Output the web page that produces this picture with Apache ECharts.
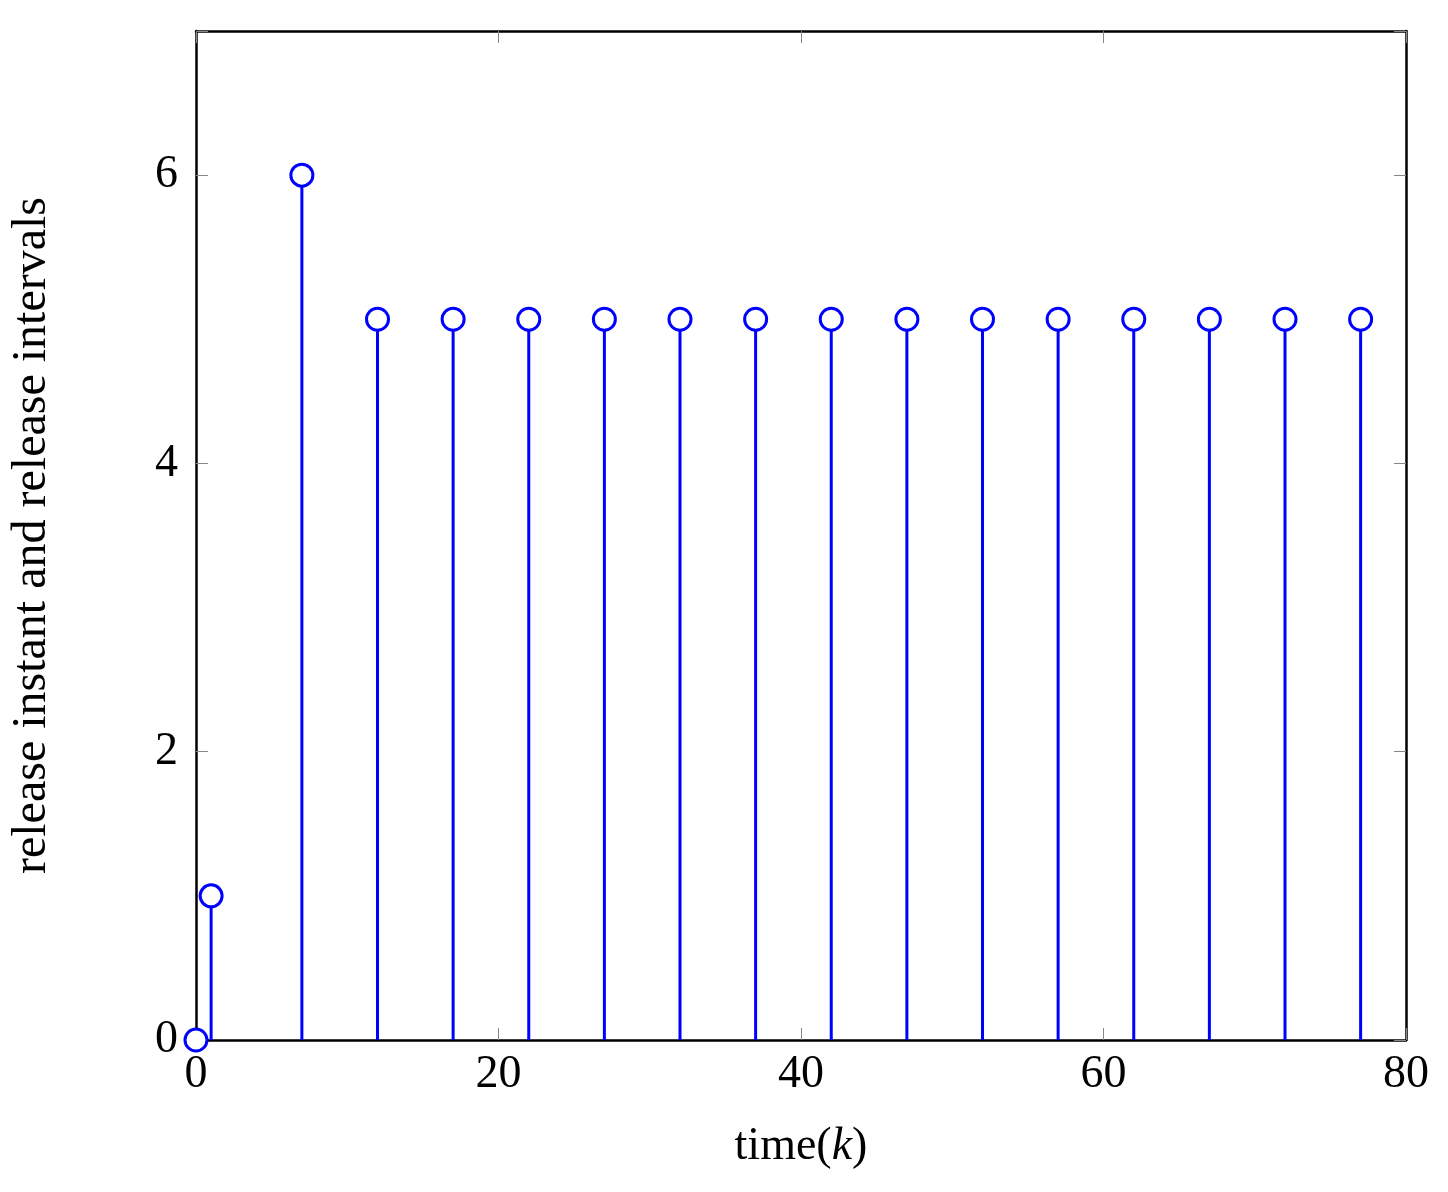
<!DOCTYPE html>
<html>
<head>
<meta charset="utf-8">
<script src="https://cdn.jsdelivr.net/npm/echarts@6/dist/echarts.min.js"></script>
<style>html,body{margin:0;padding:0;background:#fff}#chart{width:1448px;height:1192px}</style>
</head>
<body>
<div id="chart"></div>
<script>
// stem plot data
const times = [0, 1, 7, 12, 17, 22, 27, 32, 37, 42, 47, 52, 57, 62, 67, 72, 77];
const intervals = [0, 1, 6, 5, 5, 5, 5, 5, 5, 5, 5, 5, 5, 5, 5, 5, 5];
const yTicks = [0, 2, 4, 6];

const font = "'Liberation Serif', 'DejaVu Serif', serif";
const points = times.map((t, i) => [t, intervals[i]]);

const chart = echarts.init(document.getElementById('chart'));

const tickStyle = { show: true, inside: true, length: 12, lineStyle: { color: '#888', width: 1 } };
const lineStyle = { show: true, onZero: false, lineStyle: { color: '#000', width: 2.5 } };

// draw each stem as a vertical line from 0 plus an open circle at the value
function renderStem(params, api) {
  const top = api.coord([api.value(0), api.value(1)]);
  const base = api.coord([api.value(0), 0]);
  return {
    type: 'group',
    children: [
      {
        type: 'line',
        shape: { x1: base[0], y1: base[1], x2: top[0], y2: top[1] },
        style: { stroke: '#0000ff', lineWidth: 3 }
      },
      {
        type: 'circle',
        shape: { cx: top[0], cy: top[1], r: 11 },
        style: { fill: '#fff', stroke: '#0000ff', lineWidth: 3 }
      }
    ]
  };
}

chart.setOption({
  animation: false,
  grid: { left: 192, right: 42, top: 31, bottom: 152 },
  xAxis: [
    {
      type: 'value', min: 0, max: 80, interval: 20,
      name: 'time({i|k})', nameLocation: 'middle', nameGap: 84,
      nameTextStyle: { fontFamily: font, fontSize: 46, color: '#000',
        rich: { i: { fontFamily: font, fontSize: 46, fontStyle: 'italic', color: '#000' } } },
      axisLine: lineStyle, axisTick: tickStyle, splitLine: { show: false },
      axisLabel: { fontFamily: font, fontSize: 46, color: '#000', margin: 12 }
    },
    {
      type: 'value', min: 0, max: 80, interval: 20, position: 'top',
      axisLine: lineStyle, axisTick: tickStyle, splitLine: { show: false },
      axisLabel: { show: false }
    }
  ],
  yAxis: [
    {
      type: 'value', min: 0, max: 7, interval: 2,
      name: 'release instant and release intervals', nameLocation: 'middle', nameGap: 140,
      nameTextStyle: { fontFamily: font, fontSize: 48, color: '#000' },
      axisLine: lineStyle, axisTick: tickStyle, splitLine: { show: false },
      axisLabel: { fontFamily: font, fontSize: 46, color: '#000', margin: 18,
        formatter: v => yTicks.includes(v) ? String(v) : '' }
    },
    {
      type: 'value', min: 0, max: 7, interval: 2, position: 'right',
      axisLine: lineStyle, axisTick: tickStyle, splitLine: { show: false },
      axisLabel: { show: false }
    }
  ],
  series: [
    {
      type: 'custom', data: points, renderItem: renderStem,
      encode: { x: 0, y: 1 }, clip: false, z: 3
    }
  ]
});
</script>
</body>
</html>
